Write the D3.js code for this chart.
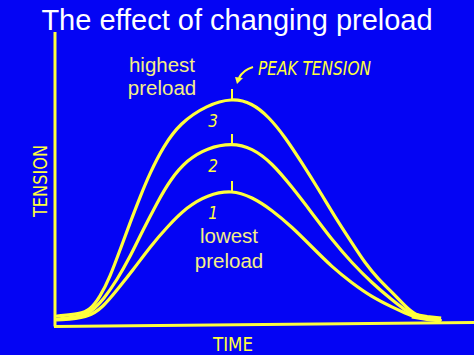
<!DOCTYPE html>
<html>
<head>
<meta charset="utf-8">
<script src="https://cdn.jsdelivr.net/npm/d3@7"></script>
<style>
  html, body { margin: 0; padding: 0; background: #0404f4; }
  svg { display: block; }
</style>
</head>
<body>
<svg id="chart" width="474" height="355"></svg>
<script>
// ---- data (time in ms-like units, tension in arbitrary units) ----
const seriesNames = ["1", "2", "3"];
const curve1Time    = [2, 33, 48, 62, 78, 95, 112, 132, 152, 177, 197, 217, 237, 257, 277, 297, 317, 337, 350, 360, 375, 385];
const curve1Tension = [5, 7, 18, 35, 55, 78, 98, 118, 130, 135, 128, 115, 98, 78, 58, 42, 28, 18, 12, 8, 6, 5];
const curve2Time    = [2, 30, 40, 48, 62, 75, 88, 102, 115, 132, 152, 177, 197, 217, 237, 257, 277, 297, 317, 337, 350, 360, 375, 385];
const curve2Tension = [6, 9, 17, 25, 45, 68, 95, 122, 145, 165, 177, 182, 177, 162, 138, 112, 85, 62, 42, 25, 15, 9, 6, 5];
const curve3Time    = [2, 25, 35, 45, 55, 65, 75, 85, 95, 108, 125, 152, 177, 197, 214, 230, 247, 264, 280, 297, 310, 324, 337, 350, 360, 375, 385];
const curve3Tension = [9, 11, 15, 28, 48, 75, 102, 128, 152, 178, 202, 220, 227, 222, 208, 188, 162, 135, 108, 82, 62, 45, 33, 19, 10, 6, 5];
const peakTime = 177;
const titleText = "The effect of changing preload";
const highLabel = ["highest", "preload"];
const lowLabel = ["lowest", "preload"];
const peakLabel = "PEAK TENSION";
const xLabel = "TIME";
const yLabel = "TENSION";

const curves = [
  { name: seriesNames[0], t: curve1Time, v: curve1Tension },
  { name: seriesNames[1], t: curve2Time, v: curve2Tension },
  { name: seriesNames[2], t: curve3Time, v: curve3Tension }
];

// ---- layout ----
const W = 474, H = 355;
const yellow = "#ffff3c";
const paleYellow = "#f4ef86";
const svg = d3.select("#chart");

svg.append("rect").attr("width", W).attr("height", H).attr("fill", "#0404f4");

const x = d3.scaleLinear().domain([0, 419]).range([55, 474]);
const y = d3.scaleLinear().domain([0, 300]).range([325, 25]);

// title
svg.append("text")
  .attr("x", 237).attr("y", 30)
  .attr("text-anchor", "middle")
  .attr("font-family", "Liberation Sans, Arial, sans-serif")
  .attr("font-size", 29)
  .attr("fill", "#ffffff")
  .text(titleText);

// axis lines (no ticks)
svg.append("line")
  .attr("x1", x(0)).attr("x2", x(0))
  .attr("y1", y(293)).attr("y2", y(-1.5))
  .attr("stroke", yellow).attr("stroke-width", 3);
svg.append("line")
  .attr("x1", x(0) - 1).attr("x2", x(419))
  .attr("y1", y(-1.5)).attr("y2", y(2.5))
  .attr("stroke", yellow).attr("stroke-width", 3);

// curves
const line = d3.line()
  .x(d => x(d[0]))
  .y(d => y(d[1]))
  .curve(d3.curveBasis);

curves.forEach(c => {
  const pts = c.t.map((t, i) => [t, c.v[i]]);
  svg.append("path")
    .datum(pts)
    .attr("d", line)
    .attr("fill", "none")
    .attr("stroke", yellow)
    .attr("stroke-width", 3.2)
    .attr("stroke-linecap", "round")
    .attr("stroke-linejoin", "round");
  const pk = d3.max(c.v);
  // peak tick
  svg.append("line")
    .attr("x1", x(peakTime)).attr("x2", x(peakTime))
    .attr("y1", y(pk) + 1).attr("y2", y(pk) - 9)
    .attr("stroke", yellow).attr("stroke-width", 2);
  // curve number
  svg.append("text")
    .attr("x", x(peakTime) - 19)
    .attr("y", y(pk) + 29)
    .attr("text-anchor", "middle")
    .attr("font-family", "DejaVu Sans Condensed, DejaVu Sans, sans-serif")
    .attr("font-style", "italic")
    .attr("font-size", 17)
    .attr("fill", yellow)
    .text(c.name);
});

// thick merge where the curves run into the baseline
const tail = [[357, 9.5], [372, 7], [386, 5.5]];
svg.append("path")
  .datum(tail)
  .attr("d", d3.line().x(d => x(d[0])).y(d => y(d[1])))
  .attr("fill", "none").attr("stroke", yellow).attr("stroke-width", 6);

// labels
function multiLine(lines, cx, y0, dy) {
  const t = svg.append("text")
    .attr("text-anchor", "middle")
    .attr("font-family", "Liberation Sans, Arial, sans-serif")
    .attr("font-size", 20.5)
    .attr("fill", paleYellow);
  lines.forEach((s, i) => t.append("tspan").attr("x", cx).attr("y", y0 + i * dy).text(s));
}
multiLine(highLabel, 162, 72, 23);
multiLine(lowLabel, 229, 243, 25);

// PEAK TENSION annotation
const pk3 = d3.max(curve3Tension);
svg.append("text")
  .attr("x", 258).attr("y", 75)
  .attr("font-family", "DejaVu Sans Condensed, DejaVu Sans, sans-serif")
  .attr("font-style", "italic")
  .attr("font-size", 19)
  .attr("textLength", 113)
  .attr("lengthAdjust", "spacingAndGlyphs")
  .attr("fill", yellow)
  .text(peakLabel);
const ax = x(peakTime), ay = y(pk3);
svg.append("path")
  .attr("d", `M${ax + 21},${ay - 31} Q${ax + 11},${ay - 28} ${ax + 7},${ay - 20}`)
  .attr("fill", "none").attr("stroke", yellow).attr("stroke-width", 2.2);
svg.append("path")
  .attr("d", `M${ax + 3},${ay - 21} L${ax + 11},${ay - 20} L${ax + 5},${ay - 14} Z`)
  .attr("fill", yellow);

// axis titles
svg.append("text")
  .attr("transform", `translate(47,181) rotate(-90)`)
  .attr("text-anchor", "middle")
  .attr("font-family", "DejaVu Sans Condensed, DejaVu Sans, sans-serif")
  .attr("font-size", 20)
  .attr("textLength", 72)
  .attr("lengthAdjust", "spacingAndGlyphs")
  .attr("fill", yellow)
  .text(yLabel);
svg.append("text")
  .attr("x", 233).attr("y", 351)
  .attr("text-anchor", "middle")
  .attr("font-family", "DejaVu Sans Condensed, DejaVu Sans, sans-serif")
  .attr("font-size", 19)
  .attr("textLength", 40)
  .attr("lengthAdjust", "spacingAndGlyphs")
  .attr("fill", yellow)
  .text(xLabel);
</script>
</body>
</html>
